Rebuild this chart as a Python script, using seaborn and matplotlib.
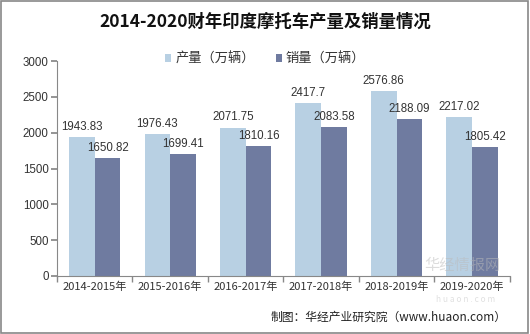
import matplotlib
matplotlib.use("Agg")
import matplotlib.pyplot as plt
import seaborn as sns
import pandas as pd
from matplotlib.patches import Rectangle

categories = ["2014-2015年", "2015-2016年", "2016-2017年", "2017-2018年", "2018-2019年", "2019-2020年"]
production = [1943.83, 1976.43, 2071.75, 2417.7, 2576.86, 2217.02]
sales = [1650.82, 1699.41, 1810.16, 2083.58, 2188.09, 1805.42]
prod_labels = ["1943.83", "1976.43", "2071.75", "2417.7", "2576.86", "2217.02"]
sales_labels = ["1650.82", "1699.41", "1810.16", "2083.58", "2188.09", "1805.42"]
series = ["产量（万辆）", "销量（万辆）"]
yticks = [0, 500, 1000, 1500, 2000, 2500, 3000]

sns.set_theme(style="white")
plt.rcParams['font.family'] = ['Noto Sans CJK SC', 'DejaVu Sans']

df = pd.DataFrame({
    "cat": categories * 2,
    "val": production + sales,
    "series": [series[0]] * 6 + [series[1]] * 6,
})

fig = plt.figure(figsize=(5.3, 3.34), dpi=100)
ax = fig.add_axes([0.1075, 0.1737, 0.8545, 0.6433])
palette = {series[0]: "#B8D0E3", series[1]: "#6F7BA0"}
sns.barplot(data=df, x="cat", y="val", hue="series", palette=palette, width=0.68,
            ax=ax, saturation=1, legend=True, linewidth=0, edgecolor="none")

for cont, labs in zip(ax.containers, [prod_labels, sales_labels]):
    ax.bar_label(cont, labels=labs, padding=3, fontsize=8.3, color="#333333",
                 family=['Liberation Sans', 'DejaVu Sans'])

ax.set_xlim(-0.5, 5.5)
ax.set_ylim(0, 3000)
ax.set_yticks(yticks)
ax.set_yticklabels([str(v) for v in yticks], fontsize=8.3, color="#333333",
                   family=['Liberation Sans', 'DejaVu Sans'])
ax.set_xticks(range(6))
ax.set_xticklabels(categories, fontsize=8, color="#333333")
ax.set_xticks([i - 0.5 for i in range(7)], minor=True)
ax.tick_params(axis="x", which="major", length=0, pad=4)
ax.tick_params(axis="x", which="minor", length=4, color="#888888", direction="out", bottom=True)
ax.tick_params(axis="y", length=4, color="#888888", direction="out", left=True, pad=2)
ax.set_xlabel("")
ax.set_ylabel("")
for s in ["top", "right"]:
    ax.spines[s].set_visible(False)
for s in ["left", "bottom"]:
    ax.spines[s].set_color("#888888")
    ax.spines[s].set_linewidth(0.8)

leg = ax.legend(loc="upper center", bbox_to_anchor=(0.46, 1.095), ncol=2, frameon=False,
                fontsize=9.5, handlelength=0.45, handleheight=0.45, handletextpad=0.3,
                columnspacing=1.6, labelcolor="#333333")

fig.text(0.5, 0.935, "2014-2020财年印度摩托车产量及销量情况", ha="center", va="center",
         fontsize=12.5, fontweight="bold", color="#111111")
fig.text(0.955, 0.05, "制图：华经产业研究院（www.huaon.com）", ha="right", va="center",
         fontsize=8.5, color="#222222")
fig.text(0.945, 0.205, "华经情报网", ha="right", va="center", fontsize=11, color="#bbbbbb", alpha=0.5)
fig.text(0.935, 0.103, "h u a o n . c o m", ha="right", va="center", fontsize=6, color="#cccccc", alpha=0.6)

fig.patches.append(Rectangle((0.002, 0.003), 0.995, 0.994, transform=fig.transFigure,
                             fill=False, edgecolor="#888888", linewidth=1.2))

fig.savefig("out.png", dpi=100)
